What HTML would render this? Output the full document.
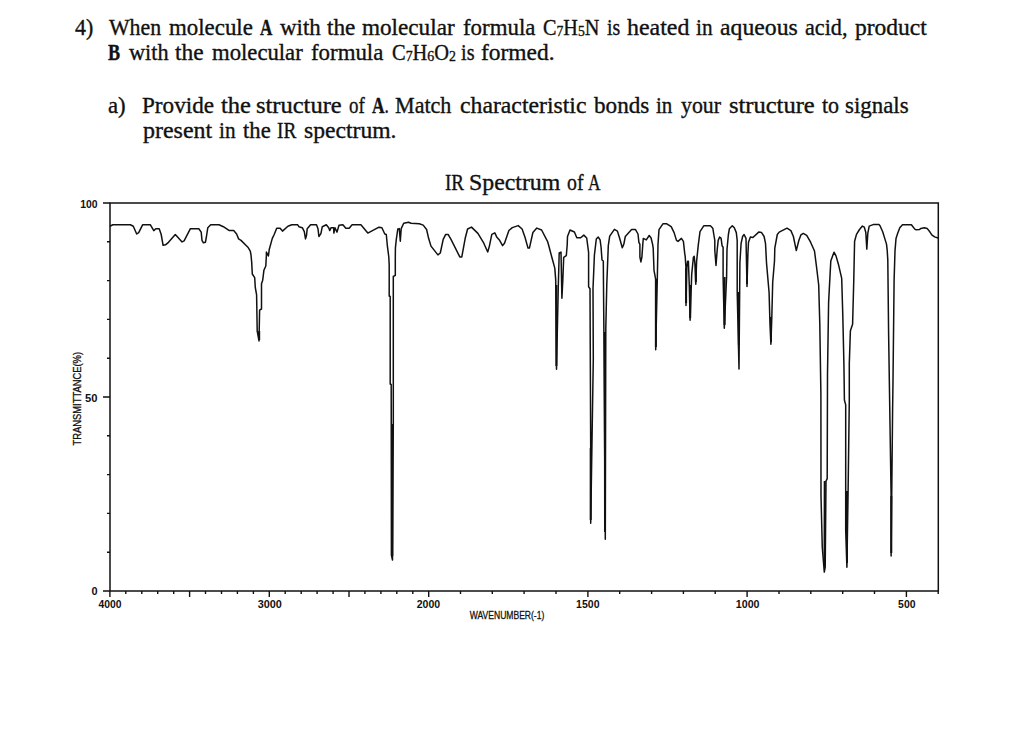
<!DOCTYPE html>
<html><head><meta charset="utf-8">
<style>
html,body{margin:0;padding:0;background:#fff;}
body{width:1024px;height:733px;position:relative;overflow:hidden;}
.t{position:absolute;font-family:"Liberation Serif",serif;font-size:22.5px;color:#111;white-space:nowrap;transform-origin:0 0;line-height:1;-webkit-text-stroke:0.35px #111;}
sub{font-size:68%;vertical-align:baseline;position:relative;top:0.1em;}
svg{position:absolute;left:0;top:0;}
</style></head><body>
<div class="t" id="w0" style="left:74.79px;top:16.56px;transform:scaleX(0.9737);">4)</div>
<div class="t" id="w1" style="left:108.77px;top:16.56px;transform:scaleX(0.9709);">When</div>
<div class="t" id="w2" style="left:169.21px;top:16.56px;transform:scaleX(1.0169);">molecule</div>
<div class="t" id="w3" style="left:259.88px;top:16.56px;transform:scaleX(0.7588);"><b>A</b></div>
<div class="t" id="w4" style="left:280.02px;top:16.56px;transform:scaleX(1.0171);">with</div>
<div class="t" id="w5" style="left:327.00px;top:16.56px;transform:scaleX(1.0321);">the</div>
<div class="t" id="w6" style="left:362.20px;top:16.56px;transform:scaleX(1.0297);">molecular</div>
<div class="t" id="w7" style="left:462.61px;top:16.56px;transform:scaleX(1.0167);">formula</div>
<div class="t" id="w8" style="left:543.00px;top:16.56px;transform:scaleX(0.8984);">C<sub>7</sub>H<sub>5</sub>N</div>
<div class="t" id="w9" style="left:606.75px;top:16.56px;transform:scaleX(0.8813);">is</div>
<div class="t" id="w10" style="left:627.00px;top:16.56px;transform:scaleX(1.0627);">heated</div>
<div class="t" id="w11" style="left:696.42px;top:16.56px;transform:scaleX(0.9444);">in</div>
<div class="t" id="w12" style="left:719.79px;top:16.56px;transform:scaleX(1.0541);">aqueous</div>
<div class="t" id="w13" style="left:804.80px;top:16.56px;transform:scaleX(0.9857);">acid,</div>
<div class="t" id="w14" style="left:855.20px;top:16.56px;transform:scaleX(1.0449);">product</div>
<div class="t" id="w15" style="left:108.36px;top:41.76px;transform:scaleX(0.8062);"><b>B</b></div>
<div class="t" id="w16" style="left:129.19px;top:41.76px;transform:scaleX(0.9878);">with</div>
<div class="t" id="w17" style="left:175.00px;top:41.76px;transform:scaleX(1.0429);">the</div>
<div class="t" id="w18" style="left:211.60px;top:41.76px;transform:scaleX(1.0088);">molecular</div>
<div class="t" id="w19" style="left:311.40px;top:41.76px;transform:scaleX(1.0153);">formula</div>
<div class="t" id="w20" style="left:391.81px;top:41.76px;transform:scaleX(0.9086);">C<sub>7</sub>H<sub>6</sub>O<sub>2</sub></div>
<div class="t" id="w21" style="left:461.43px;top:41.76px;transform:scaleX(0.9000);">is</div>
<div class="t" id="w22" style="left:481.18px;top:41.76px;transform:scaleX(1.0420);">formed.</div>
<div class="t" id="w23" style="left:107.60px;top:94.56px;transform:scaleX(1.0118);">a)</div>
<div class="t" id="w24" style="left:141.59px;top:94.56px;transform:scaleX(1.0286);">Provide</div>
<div class="t" id="w25" style="left:220.79px;top:94.56px;transform:scaleX(1.0857);">the</div>
<div class="t" id="w26" style="left:256.00px;top:94.56px;transform:scaleX(1.0886);">structure</div>
<div class="t" id="w27" style="left:349.00px;top:94.56px;transform:scaleX(0.8400);">of</div>
<div class="t" id="w28" style="left:372.24px;top:94.56px;transform:scaleX(0.7727);"><b>A</b>.</div>
<div class="t" id="w29" style="left:395.41px;top:94.56px;transform:scaleX(0.9810);">Match</div>
<div class="t" id="w30" style="left:460.23px;top:94.56px;transform:scaleX(1.0545);">characteristic</div>
<div class="t" id="w31" style="left:594.01px;top:94.56px;transform:scaleX(1.0296);">bonds</div>
<div class="t" id="w32" style="left:656.39px;top:94.56px;transform:scaleX(0.9333);">in</div>
<div class="t" id="w33" style="left:680.98px;top:94.56px;transform:scaleX(0.9698);">your</div>
<div class="t" id="w34" style="left:729.25px;top:94.56px;transform:scaleX(1.0886);">structure</div>
<div class="t" id="w35" style="left:822.19px;top:94.56px;transform:scaleX(0.9778);">to</div>
<div class="t" id="w36" style="left:845.39px;top:94.56px;transform:scaleX(1.0177);">signals</div>
<div class="t" id="w37" style="left:142.65px;top:120.36px;transform:scaleX(1.0652);">present</div>
<div class="t" id="w38" style="left:219.19px;top:120.36px;transform:scaleX(0.9444);">in</div>
<div class="t" id="w39" style="left:243.20px;top:120.36px;transform:scaleX(1.0071);">the</div>
<div class="t" id="w40" style="left:277.26px;top:120.36px;transform:scaleX(0.8565);">IR</div>
<div class="t" id="w41" style="left:304.23px;top:120.36px;transform:scaleX(1.0500);">spectrum.</div>
<div class="t" id="w42" style="left:444.63px;top:172.36px;transform:scaleX(0.8478);">IR</div>
<div class="t" id="w43" style="left:468.74px;top:172.36px;transform:scaleX(1.0588);">Spectrum</div>
<div class="t" id="w44" style="left:566.75px;top:172.36px;transform:scaleX(0.8800);">of</div>
<div class="t" id="w45" style="left:588.24px;top:172.36px;transform:scaleX(0.7722);">A</div>
<svg width="1024" height="733" viewBox="0 0 1024 733">
<rect x="110" y="203" width="828.3" height="388" fill="none" stroke="#111" stroke-width="1.5"/>
<path d="M109.9 591 V597 M125.8 591 V594 M141.8 591 V594 M157.7 591 V594 M173.7 591 V594 M189.6 591 V597 M205.5 591 V594 M221.5 591 V594 M237.4 591 V594 M253.4 591 V594 M269.3 591 V597 M285.2 591 V594 M301.2 591 V594 M317.1 591 V594 M333.1 591 V594 M349.0 591 V597 M364.9 591 V594 M380.9 591 V594 M396.8 591 V594 M412.8 591 V594 M428.7 591 V597 M460.5 591 V594 M492.3 591 V594 M524.1 591 V594 M556.0 591 V594 M587.9 591 V597 M619.7 591 V594 M651.6 591 V594 M683.4 591 V594 M715.2 591 V594 M747.1 591 V597 M779.0 591 V594 M810.8 591 V594 M842.7 591 V594 M874.5 591 V594 M906.4 591 V597 M938.2 591 V594 M110 591.0 H103 M110 552.2 H107 M110 513.4 H107 M110 474.6 H107 M110 435.8 H107 M110 397.0 H103 M110 358.2 H107 M110 319.4 H107 M110 280.6 H107 M110 241.8 H107 M110 203.0 H103" stroke="#111" stroke-width="1.4" fill="none"/>
<path d="M109.9 226.2 L112.8 224.8 L130.4 224.8 L133.3 226.2 L136.7 234.0 L138.7 232.6 L142.6 224.8 L150.4 224.8 L153.8 230.6 L155.8 228.7 L159.2 228.7 L161.2 234.5 L163.1 245.3 L165.5 244.8 L168.5 242.3 L175.3 234.5 L182.1 241.9 L184.1 240.9 L190.4 228.7 L198.8 228.7 L201.2 232.1 L202.0 240.4 L203.4 242.8 L205.4 242.3 L206.3 237.5 L207.8 227.7 L210.7 224.8 L219.0 224.8 L223.4 226.7 L229.3 230.6 L233.7 230.6 L236.6 234.0 L238.6 238.9 L241.0 240.4 L247.9 247.2 L250.3 251.1 L251.0 255.0 L251.7 262.4 L252.3 274.0 L254.7 277.7 L255.3 287.5 L256.6 294.9 L257.2 331.1 L259.0 340.9 L259.6 310.2 L261.5 309.0 L261.5 283.8 L262.7 280.2 L263.9 270.3 L265.8 266.0 L266.4 255.0 L266.4 252.1 L268.4 256.0 L269.3 249.2 L272.3 238.4 L274.2 234.5 L276.7 228.2 L280.1 228.2 L282.5 231.1 L287.9 226.2 L291.8 224.8 L297.7 224.8 L298.9 226.7 L302.3 227.7 L304.3 231.6 L305.5 238.9 L306.5 235.5 L307.2 228.7 L310.6 224.8 L316.5 224.8 L318.0 228.7 L318.9 236.5 L320.9 233.6 L322.3 226.7 L326.3 224.8 L328.7 227.7 L329.7 230.6 L331.1 227.7 L333.6 227.7 L333.9 233.1 L335.0 227.7 L337.0 232.1 L339.0 225.3 L342.9 224.8 L345.8 228.2 L349.2 228.2 L352.1 224.8 L360.9 224.8 L367.8 233.1 L379.0 227.2 L381.9 227.7 L384.8 234.0 L386.3 234.5 L387.3 245.3 L388.8 257.0 L389.2 265.0 L389.2 296.0 L390.2 296.5 L390.2 384.0 L391.2 384.5 L391.4 555.0 L392.5 560.0 L393.3 424.0 L393.3 276.5 L395.3 275.4 L395.3 260.0 L395.4 248.1 L396.3 239.3 L397.8 229.0 L399.3 228.6 L400.3 241.3 L401.2 228.6 L403.7 223.2 L408.6 222.2 L411.0 223.2 L419.3 223.7 L423.2 225.1 L426.6 229.5 L428.6 238.3 L431.0 246.1 L437.9 254.9 L440.3 253.0 L443.2 239.3 L445.7 234.4 L448.1 234.4 L451.0 239.3 L459.8 256.9 L461.8 256.9 L465.2 238.3 L467.6 229.0 L471.5 227.1 L477.9 233.4 L483.8 243.2 L487.7 252.0 L489.4 246.1 L491.8 234.4 L494.8 232.9 L496.7 236.9 L499.6 240.3 L502.6 245.6 L504.5 243.2 L508.9 230.5 L512.3 227.6 L518.2 225.6 L522.1 229.0 L525.0 237.3 L528.0 248.1 L529.4 248.1 L532.9 232.5 L536.8 228.1 L541.6 230.0 L547.5 241.3 L548.6 245.0 L552.1 258.3 L554.8 268.1 L555.7 279.6 L556.5 369.3 L558.3 285.9 L559.2 253.0 L561.0 252.1 L561.9 298.3 L562.8 280.5 L563.7 257.4 L566.3 255.7 L567.2 245.0 L567.5 236.4 L570.0 230.0 L574.4 232.0 L576.8 237.8 L580.7 237.8 L583.8 235.1 L586.7 238.0 L588.6 252.3 L588.6 286.8 L590.0 288.7 L590.7 448.7 L590.7 523.3 L593.3 359.0 L593.0 288.7 L594.4 255.2 L596.3 239.0 L598.2 237.0 L600.1 239.9 L601.1 247.5 L602.0 260.0 L603.3 261.0 L603.9 332.7 L605.3 539.3 L605.8 328.0 L606.8 283.9 L608.3 245.6 L609.7 236.1 L614.4 229.4 L617.4 231.1 L619.4 237.5 L622.3 247.7 L623.8 244.3 L625.3 236.5 L631.6 229.6 L635.5 229.6 L638.0 234.0 L638.9 242.3 L639.9 244.3 L639.9 257.0 L640.9 261.9 L641.9 257.0 L642.8 244.3 L643.3 238.4 L646.3 239.9 L649.2 235.5 L651.1 238.0 L652.6 244.3 L653.2 248.2 L654.0 270.3 L655.7 279.3 L655.7 349.8 L657.3 279.3 L658.0 244.3 L659.0 229.6 L662.9 223.8 L666.8 223.8 L671.2 226.7 L674.1 232.6 L676.5 240.4 L678.0 241.4 L681.4 238.4 L683.4 241.4 L684.8 254.1 L685.2 256.4 L686.0 268.7 L686.0 305.6 L686.8 267.9 L687.6 261.3 L688.4 261.3 L689.3 285.9 L690.1 320.3 L691.7 274.4 L693.4 257.2 L694.2 256.4 L695.0 264.6 L695.8 284.3 L696.6 261.3 L698.3 244.9 L700.0 231.6 L703.9 225.7 L710.4 225.7 L712.8 228.2 L713.8 234.5 L714.8 240.4 L714.8 250.2 L716.0 265.4 L717.2 249.7 L718.2 240.4 L719.6 237.0 L721.1 238.4 L722.1 245.8 L723.1 247.2 L723.1 276.9 L724.3 328.3 L726.6 276.9 L727.0 249.2 L728.4 234.5 L729.4 228.7 L732.3 225.7 L734.3 227.7 L736.3 232.6 L737.2 240.4 L737.2 292.0 L739.0 369.0 L739.9 262.7 L741.1 243.3 L742.6 236.5 L744.1 234.5 L746.0 238.4 L747.0 286.6 L747.9 253.9 L748.5 242.3 L750.4 237.0 L752.9 237.5 L758.7 232.1 L761.6 232.6 L764.1 236.5 L765.5 243.3 L766.5 262.7 L769.1 292.8 L770.0 324.7 L770.9 344.2 L771.8 317.7 L772.7 282.2 L774.5 261.0 L774.8 248.2 L777.3 234.5 L779.2 232.1 L787.0 228.2 L790.9 230.6 L793.4 236.5 L796.3 250.6 L797.4 246.1 L798.9 240.3 L800.9 234.9 L803.3 233.4 L806.7 235.4 L810.6 242.2 L814.5 251.0 L816.6 267.5 L818.7 285.0 L819.8 324.3 L820.9 394.2 L821.0 495.9 L822.3 547.5 L824.3 572.1 L825.2 567.2 L826.0 481.1 L827.2 478.7 L827.5 374.5 L828.6 302.4 L830.8 260.9 L834.0 252.2 L836.0 255.9 L838.4 264.2 L841.7 278.4 L842.8 315.5 L843.9 363.6 L844.4 400.0 L845.7 404.9 L845.7 530.3 L846.9 567.2 L848.1 491.0 L849.3 400.0 L849.3 363.6 L850.4 330.8 L852.6 324.3 L853.7 282.8 L854.6 241.3 L856.5 234.4 L859.5 229.5 L862.4 226.1 L864.3 227.1 L865.8 232.5 L866.8 249.1 L867.8 233.4 L869.2 226.1 L873.1 224.6 L879.0 224.6 L880.0 225.7 L882.7 231.8 L884.8 238.6 L886.5 244.1 L887.2 250.2 L887.8 260.0 L888.6 333.0 L891.1 495.9 L891.1 556.1 L892.6 410.0 L893.0 381.0 L894.1 280.6 L895.0 250.9 L896.0 238.6 L897.7 233.2 L899.8 227.7 L902.5 224.7 L911.4 224.7 L914.8 229.1 L916.2 229.8 L919.6 229.4 L920.9 228.4 L924.3 227.7 L927.1 228.4 L929.8 231.8 L931.8 234.9 L934.6 236.9 L938.0 238.0" stroke="#111" stroke-width="1.5" fill="none" stroke-linejoin="round"/>
<path d="M259.2 331 L259.2 340 M392.3 424 L392.3 556 M556.4 285 L556.4 366 M590.7 448 L590.7 520 M604.8 332 L605 532 M655.9 279 L655.9 347 M686.1 268 L686.1 303 M690.2 285 L690.2 318 M695.9 264 L695.9 282 M724.6 277 L724.6 325 M738.8 292 L738.9 345 M747 262 L747 284 M771 317 L771 342 M824.7 481 L824.5 566 M847 491 L847 563 M891.3 496 L891.3 553" stroke="#111" stroke-width="2" fill="none"/>
</svg>
<svg width="1024" height="733" viewBox="0 0 1024 733" style="font-family:'Liberation Sans',sans-serif;font-size:10.6px;fill:#111;font-weight:bold;">
<text x="80.2" y="207.9" textLength="17.4" lengthAdjust="spacingAndGlyphs">100</text>
<text x="85.1" y="401.5" textLength="12.5" lengthAdjust="spacingAndGlyphs">50</text>
<text x="91.5" y="595.0" textLength="6.1" lengthAdjust="spacingAndGlyphs">0</text>
<text x="98.5" y="607.6" textLength="23.0" lengthAdjust="spacingAndGlyphs">4000</text>
<text x="257.7" y="607.6" textLength="24.2" lengthAdjust="spacingAndGlyphs">3000</text>
<text x="416.7" y="607.6" textLength="23.4" lengthAdjust="spacingAndGlyphs">2000</text>
<text x="576.1" y="607.6" textLength="23.4" lengthAdjust="spacingAndGlyphs">1500</text>
<text x="735.8" y="607.6" textLength="23.7" lengthAdjust="spacingAndGlyphs">1000</text>
<text x="898.1" y="607.6" textLength="17.4" lengthAdjust="spacingAndGlyphs">500</text>
<text x="469.8" y="618.6" textLength="74.5" lengthAdjust="spacingAndGlyphs" style="font-size:11px;font-weight:normal;stroke:#111;stroke-width:0.3px">WAVENUMBER(-1)</text>
<text transform="translate(81.2 445.5) rotate(-90)" x="0" y="0" textLength="93.5" lengthAdjust="spacingAndGlyphs" style="font-size:10px;font-weight:normal;stroke:#111;stroke-width:0.3px">TRANSMITTANCE(%)</text>
</svg>
</body></html>
